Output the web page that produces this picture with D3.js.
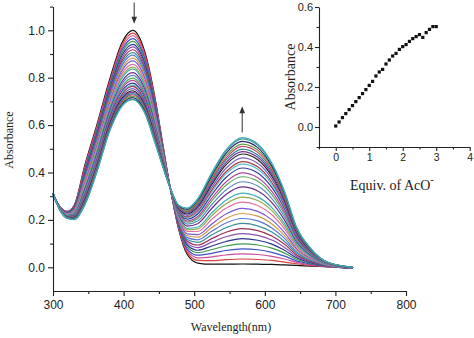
<!DOCTYPE html>
<html><head><meta charset="utf-8">
<script src="https://cdn.jsdelivr.net/npm/d3@7"></script>
<style>html,body{margin:0;padding:0;background:#fff}svg{display:block}</style>
</head><body>
<svg id="chart" width="474" height="338"></svg>
<script>
// ---------- data ----------
const wavelengths = [300,310,320,330,345,362,381,398,413,430,445,456,466,478,490,505,525,545,568,590,610,628,645,665,690,725];
const s0  = [0.310,0.255,0.236,0.262,0.430,0.600,0.800,0.950,1.000,0.910,0.707,0.510,0.335,0.160,0.055,0.018,0.013,0.013,0.014,0.013,0.012,0.010,0.008,0.005,0.002,-0.004];
const s1  = [0.310,0.254,0.235,0.260,0.423,0.592,0.791,0.939,0.988,0.900,0.700,0.506,0.335,0.164,0.063,0.029,0.028,0.032,0.035,0.033,0.029,0.022,0.015,0.008,0.003,-0.004];
const s2  = [0.310,0.254,0.234,0.257,0.417,0.584,0.782,0.928,0.977,0.889,0.692,0.503,0.335,0.168,0.071,0.040,0.044,0.052,0.057,0.054,0.046,0.035,0.021,0.011,0.003,-0.004];
const s3  = [0.310,0.253,0.233,0.255,0.410,0.576,0.774,0.918,0.965,0.879,0.685,0.499,0.335,0.172,0.078,0.051,0.059,0.071,0.078,0.074,0.063,0.047,0.027,0.014,0.004,-0.004];
const s4  = [0.310,0.253,0.231,0.252,0.403,0.568,0.765,0.907,0.953,0.868,0.677,0.496,0.335,0.176,0.086,0.062,0.075,0.090,0.099,0.094,0.081,0.060,0.034,0.017,0.005,-0.003];
const s5  = [0.310,0.252,0.230,0.250,0.396,0.560,0.756,0.896,0.941,0.858,0.670,0.492,0.335,0.180,0.094,0.072,0.090,0.109,0.121,0.114,0.098,0.072,0.040,0.020,0.006,-0.003];
const s6  = [0.310,0.251,0.229,0.247,0.390,0.552,0.747,0.885,0.930,0.848,0.662,0.488,0.335,0.185,0.102,0.083,0.106,0.129,0.142,0.135,0.115,0.084,0.047,0.023,0.006,-0.003];
const s7  = [0.310,0.251,0.228,0.245,0.383,0.544,0.738,0.874,0.918,0.837,0.655,0.485,0.335,0.189,0.110,0.094,0.121,0.148,0.163,0.155,0.132,0.097,0.053,0.026,0.007,-0.003];
const s8  = [0.310,0.250,0.227,0.243,0.376,0.536,0.730,0.864,0.906,0.827,0.647,0.481,0.335,0.193,0.117,0.105,0.137,0.167,0.185,0.175,0.149,0.109,0.060,0.029,0.008,-0.003];
const s9  = [0.310,0.250,0.226,0.240,0.370,0.528,0.721,0.853,0.895,0.816,0.640,0.478,0.335,0.197,0.125,0.116,0.152,0.187,0.206,0.196,0.166,0.122,0.066,0.032,0.009,-0.003];
const s10 = [0.310,0.249,0.224,0.238,0.363,0.520,0.712,0.842,0.883,0.806,0.632,0.474,0.335,0.201,0.133,0.127,0.168,0.206,0.227,0.216,0.183,0.134,0.073,0.035,0.009,-0.002];
const s11 = [0.310,0.248,0.223,0.235,0.356,0.512,0.703,0.831,0.871,0.796,0.625,0.470,0.335,0.205,0.141,0.138,0.183,0.225,0.249,0.236,0.200,0.146,0.079,0.038,0.010,-0.002];
const s12 = [0.310,0.248,0.222,0.232,0.348,0.502,0.692,0.818,0.856,0.783,0.615,0.466,0.335,0.210,0.151,0.151,0.203,0.249,0.275,0.261,0.222,0.162,0.087,0.042,0.011,-0.002];
const s13 = [0.310,0.247,0.221,0.230,0.341,0.494,0.683,0.807,0.845,0.772,0.608,0.462,0.335,0.214,0.158,0.162,0.218,0.268,0.296,0.282,0.239,0.174,0.094,0.045,0.012,-0.002];
const s14 = [0.310,0.247,0.220,0.228,0.336,0.488,0.677,0.799,0.836,0.764,0.602,0.460,0.335,0.217,0.164,0.170,0.230,0.283,0.313,0.297,0.252,0.184,0.099,0.047,0.012,-0.002];
const s15 = [0.310,0.246,0.218,0.225,0.328,0.478,0.666,0.785,0.821,0.751,0.593,0.455,0.335,0.222,0.174,0.184,0.249,0.307,0.339,0.322,0.273,0.199,0.107,0.051,0.013,-0.002];
const s16 = [0.310,0.245,0.217,0.222,0.321,0.470,0.657,0.775,0.810,0.741,0.585,0.452,0.335,0.226,0.182,0.195,0.265,0.326,0.361,0.343,0.290,0.212,0.113,0.054,0.014,-0.001];
const s17 = [0.310,0.245,0.216,0.220,0.314,0.462,0.648,0.764,0.798,0.731,0.578,0.448,0.335,0.230,0.190,0.206,0.280,0.346,0.382,0.363,0.307,0.224,0.120,0.057,0.014,-0.001];
const s18 = [0.310,0.244,0.215,0.218,0.309,0.456,0.642,0.756,0.789,0.723,0.572,0.445,0.335,0.233,0.195,0.214,0.292,0.360,0.398,0.378,0.320,0.233,0.125,0.059,0.015,-0.001];
const s19 = [0.310,0.244,0.214,0.216,0.302,0.448,0.633,0.745,0.777,0.712,0.565,0.442,0.335,0.238,0.203,0.225,0.307,0.379,0.419,0.398,0.337,0.246,0.131,0.062,0.016,-0.001];
const s20 = [0.310,0.243,0.213,0.214,0.297,0.442,0.626,0.737,0.769,0.705,0.559,0.439,0.335,0.241,0.209,0.233,0.319,0.394,0.435,0.414,0.350,0.255,0.136,0.064,0.016,-0.001];
const s21 = [0.310,0.243,0.213,0.213,0.294,0.438,0.622,0.731,0.763,0.699,0.556,0.437,0.335,0.243,0.213,0.238,0.327,0.403,0.446,0.424,0.359,0.261,0.139,0.066,0.017,-0.001];
const s22 = [0.310,0.242,0.212,0.211,0.289,0.432,0.615,0.723,0.754,0.692,0.550,0.434,0.335,0.246,0.219,0.247,0.338,0.418,0.462,0.439,0.372,0.270,0.144,0.068,0.017,-0.001];
const s23 = [0.310,0.242,0.211,0.209,0.284,0.426,0.609,0.715,0.745,0.684,0.544,0.432,0.335,0.249,0.225,0.255,0.350,0.432,0.478,0.454,0.384,0.280,0.149,0.070,0.018,-0.001];
const s24 = [0.310,0.242,0.210,0.208,0.281,0.422,0.604,0.710,0.739,0.679,0.541,0.430,0.335,0.251,0.229,0.260,0.357,0.442,0.488,0.464,0.393,0.286,0.152,0.072,0.018,0.000];
const s25 = [0.310,0.241,0.210,0.207,0.277,0.418,0.600,0.704,0.733,0.673,0.537,0.428,0.335,0.253,0.233,0.266,0.365,0.452,0.499,0.474,0.402,0.292,0.155,0.073,0.018,0.000];
const s26 = [0.310,0.241,0.209,0.205,0.274,0.414,0.595,0.699,0.728,0.668,0.533,0.426,0.335,0.255,0.236,0.271,0.373,0.461,0.510,0.485,0.410,0.298,0.159,0.075,0.019,0.000];
const s27 = [0.310,0.241,0.208,0.204,0.270,0.410,0.591,0.694,0.722,0.663,0.529,0.425,0.335,0.257,0.240,0.276,0.381,0.471,0.520,0.495,0.419,0.305,0.162,0.076,0.019,0.000];
const s28 = [0.310,0.240,0.208,0.203,0.267,0.406,0.587,0.688,0.716,0.658,0.526,0.423,0.335,0.259,0.244,0.282,0.388,0.481,0.531,0.505,0.427,0.311,0.165,0.078,0.020,0.000];
const s29 = [0.310,0.240,0.207,0.202,0.264,0.402,0.582,0.683,0.710,0.653,0.522,0.421,0.335,0.261,0.248,0.287,0.396,0.490,0.542,0.515,0.436,0.317,0.168,0.079,0.020,0.000];
const s30 = [0.310,0.240,0.207,0.201,0.262,0.400,0.580,0.680,0.707,0.650,0.520,0.420,0.335,0.262,0.250,0.290,0.400,0.495,0.547,0.520,0.440,0.320,0.170,0.080,0.020,0.000];
const spectra = [s0,s1,s2,s3,s4,s5,s6,s7,s8,s9,s10,s11,s12,s13,s14,s15,s16,s17,s18,s19,s20,s21,s22,s23,s24,s25,s26,s27,s28,s29,s30];

const lineColors = ['#111111','#d9413b','#cc4f9c','#3b52c2','#3f9a50','#2d3490','#8a50b0','#9a2f55','#3a8f9f','#5a78d6',
                    '#d39a4c','#7a5ad0','#e070a8','#9aa84a','#40b0b8','#6a2e88','#5a88c0','#5aa860','#b04a9a','#303a9a',
                    '#5fbfcf','#a04048','#7860c0','#222222','#7a3a9a','#2f8a90','#c04070','#6a9a40','#2a2a70','#3a9aa0','#45aab2'];

const equiv   = [0,0.1,0.2,0.3,0.4,0.5,0.6,0.7,0.8,0.9,1.0,1.1,1.2,1.3,1.4,1.5,1.6,1.7,1.8,1.9,2.0,2.1,2.2,2.3,2.4,2.5,2.6,2.7,2.8,2.9,3.0];
const absInset = [0.005,0.025,0.047,0.067,0.087,0.107,0.127,0.147,0.167,0.187,0.208,0.228,0.255,0.275,0.288,0.315,0.335,0.355,0.368,0.388,0.402,0.412,0.428,0.442,0.452,0.462,0.448,0.472,0.488,0.502,0.502];

const mainXTicks = [300,400,500,600,700,800];
const mainXMinor = [350,450,550,650,750];
const mainYTicks = [0.0,0.2,0.4,0.6,0.8,1.0];
const mainYMinor = [0.1,0.3,0.5,0.7,0.9,1.1];
const insetXTicks = [0,1,2,3,4];
const insetXMinor = [-0.5,0.5,1.5,2.5,3.5];
const insetYTicks = [0.0,0.2,0.4,0.6];
const insetYMinor = [-0.1,0.1,0.3,0.5];

// arrows: wavelength, start absorbance, end absorbance (tip)
const arrowW    = [415, 568];
const arrowFrom = [1.117, 0.569];
const arrowTo   = [1.028, 0.680];

// ---------- drawing ----------
const svg = d3.select('#chart');
const sans = '"Liberation Sans", Arial, sans-serif';
const serif = '"Liberation Serif", "Times New Roman", serif';
const axisCol = '#222';

const x = d3.scaleLinear().domain([300,800]).range([53,406]);
const y = d3.scaleLinear().domain([-0.1,1.1]).range([291,6.6]);

const line = d3.line().x((d,i)=>x(wavelengths[i])).y(d=>y(d)).curve(d3.curveMonotoneX);
svg.append('g').selectAll('path').data(spectra).join('path')
  .attr('d', d=>line(d))
  .attr('fill','none')
  .attr('stroke',(d,i)=>lineColors[i])
  .attr('stroke-width',1.2)
  .attr('stroke-linejoin','round');

function styleAxis(g, fs){
  g.selectAll('path.domain').attr('stroke',axisCol).attr('stroke-width',1.1);
  g.selectAll('line').attr('stroke',axisCol).attr('stroke-width',1.1);
  g.selectAll('text').attr('fill','#222').style('font-family',sans).style('font-size',fs+'px');
}

// main axes
const gx = svg.append('g').attr('transform','translate(0,291)')
  .call(d3.axisBottom(x).tickValues(mainXTicks).tickFormat(d3.format('d')).tickSize(5).tickSizeOuter(0).tickPadding(4));
styleAxis(gx,12);
const gxm = svg.append('g').attr('transform','translate(0,291)')
  .call(d3.axisBottom(x).tickValues(mainXMinor).tickFormat('').tickSize(3).tickSizeOuter(0));
gxm.select('path.domain').remove(); styleAxis(gxm,12);

const gy = svg.append('g').attr('transform','translate(53,0)')
  .call(d3.axisLeft(y).tickValues(mainYTicks).tickFormat(d3.format('.1f')).tickSize(5).tickSizeOuter(0).tickPadding(3));
styleAxis(gy,12);
const gym = svg.append('g').attr('transform','translate(53,0)')
  .call(d3.axisLeft(y).tickValues(mainYMinor).tickFormat('').tickSize(3).tickSizeOuter(0));
gym.select('path.domain').remove(); styleAxis(gym,12);

svg.append('text').attr('transform','translate(13,140) rotate(-90)')
  .attr('text-anchor','middle').style('font-family',serif).style('font-size','12px').attr('fill','#222')
  .text('Absorbance');
svg.append('text').attr('x',231).attr('y',331)
  .attr('text-anchor','middle').style('font-family',serif).style('font-size','12px').attr('fill','#222')
  .text('Wavelength(nm)');

// arrows
arrowW.forEach((w,i)=>{
  const ax = x(w), y0 = y(arrowFrom[i]), y1 = y(arrowTo[i]);
  const dir = Math.sign(y1-y0);
  svg.append('line').attr('x1',ax).attr('x2',ax).attr('y1',y0).attr('y2',y1-dir*5)
    .attr('stroke','#333').attr('stroke-width',1);
  svg.append('path').attr('d',`M${ax},${y1} L${ax-2.8},${y1-dir*7} L${ax+2.8},${y1-dir*7} Z`).attr('fill','#333');
});

// inset
const xi = d3.scaleLinear().domain([-0.5,4]).range([319,469.7]);
const yi = d3.scaleLinear().domain([-0.1,0.6]).range([147,7]);

const gxi = svg.append('g').attr('transform','translate(0,147)')
  .call(d3.axisBottom(xi).tickValues(insetXTicks).tickFormat(d3.format('d')).tickSize(4).tickSizeOuter(0).tickPadding(3));
styleAxis(gxi,10.5);
const gxim = svg.append('g').attr('transform','translate(0,147)')
  .call(d3.axisBottom(xi).tickValues(insetXMinor).tickFormat('').tickSize(2.5).tickSizeOuter(0));
gxim.select('path.domain').remove(); styleAxis(gxim,10.5);

const gyi = svg.append('g').attr('transform','translate(319,0)')
  .call(d3.axisLeft(yi).tickValues(insetYTicks).tickFormat(d3.format('.1f')).tickSize(4).tickSizeOuter(0).tickPadding(2));
styleAxis(gyi,11);
const gyim = svg.append('g').attr('transform','translate(319,0)')
  .call(d3.axisLeft(yi).tickValues(insetYMinor).tickFormat('').tickSize(2.5).tickSizeOuter(0));
gyim.select('path.domain').remove(); styleAxis(gyim,11);

svg.append('g').selectAll('rect').data(equiv).join('rect')
  .attr('x',(d)=>xi(d)-1.6).attr('y',(d,i)=>yi(absInset[i])-1.6)
  .attr('width',3.2).attr('height',3.2).attr('fill','#111');

svg.append('text').attr('transform','translate(295,77) rotate(-90)')
  .attr('text-anchor','middle').style('font-family',serif).style('font-size','14px').attr('fill','#222')
  .text('Absorbance');
const eq = svg.append('text').attr('x',392).attr('y',190)
  .attr('text-anchor','middle').style('font-family',serif).style('font-size','14px').attr('fill','#222');
eq.append('tspan').text('Equiv. of AcO');
eq.append('tspan').attr('dy',-7).style('font-size','11px').text('-');
</script>
</body></html>
